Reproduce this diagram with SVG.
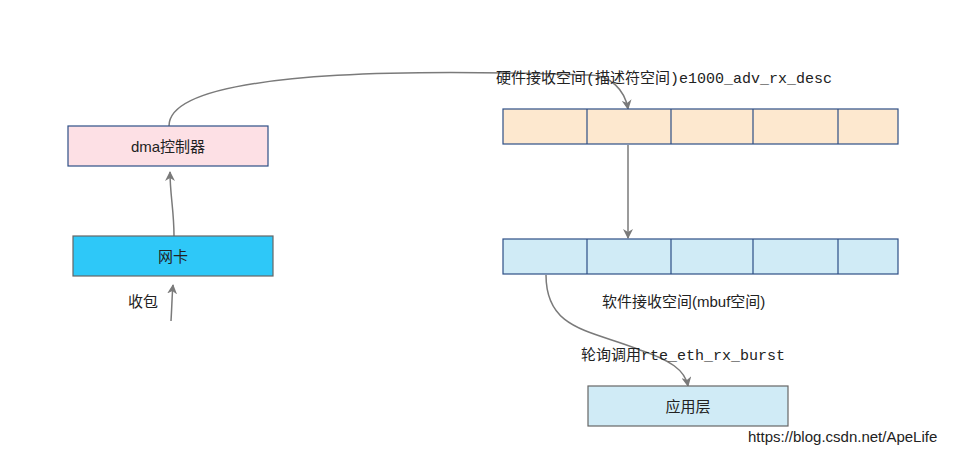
<svg xmlns="http://www.w3.org/2000/svg" width="956" height="454" viewBox="0 0 956 454">
<style>
text{font-family:"Liberation Sans","Noto Sans CJK SC",sans-serif;font-size:15px;fill:#222}
.m{font-family:"Liberation Mono","Noto Sans CJK SC",monospace}
.c{stroke:#7a7a7a;stroke-width:1.5;fill:none}
.b{stroke:#2e4f86;stroke-width:1.2}
</style>
<defs><marker id="a" markerWidth="10" markerHeight="10" refX="9" refY="5" orient="auto" markerUnits="userSpaceOnUse"><path d="M0,0L10,5L0,10L3,5z" fill="#7a7a7a"/></marker></defs>
<rect width="956" height="454" fill="#fff"/>
<g id="connectors">
<path class="c" d="M171,321C172,305 172,295 173,285" marker-end="url(#a)"/>
<path class="c" d="M174,236C174,210 170,195 170,172" marker-end="url(#a)"/>
<path class="c" d="M169,126C169,55 560,75 590,75C610,75 625,90 628,109" marker-end="url(#a)"/>
<path class="c" d="M628,145L628,238" marker-end="url(#a)"/>
<path class="c" d="M546,275C546,330 590,330 640,350C670,360 685,370 688,386" marker-end="url(#a)"/>
</g>
<g id="dma"><rect x="68" y="126" width="200" height="40" fill="#fde0e5" class="b"/><text x="168" y="152" text-anchor="middle">dma控制器</text></g>
<g id="nic"><rect x="73" y="236" width="200" height="40" fill="#2ec8f8" stroke="#666" stroke-width="1.2"/><text x="173" y="262" text-anchor="middle">网卡</text></g>
<text x="128" y="307" fill="#333">收包</text>
<g id="hw">
<rect x="503" y="109" width="395" height="35" fill="#fde8cf" class="b"/>
<path class="b" d="M587,109V144M671,109V144M753,109V144M838,109V144"/>
<text x="496" y="83" class="m" font-size="16">硬件接收空间(描述符空间)e1000_adv_rx_desc</text>
</g>
<g id="sw">
<rect x="503" y="239" width="395" height="35" fill="#d0ebf6" class="b"/>
<path class="b" d="M587,239V274M671,239V274M753,239V274M838,239V274"/>
<text x="602" y="307" font-size="17">软件接收空间(mbuf空间)</text>
</g>
<text x="581" y="360" class="m" font-size="14">轮询调用rte_eth_rx_burst</text>
<g id="app"><rect x="588" y="386" width="200" height="40" fill="#d0ebf6" stroke="#666" stroke-width="1.2"/><text x="688" y="412" text-anchor="middle">应用层</text></g>
<text x="748" y="442" font-size="15" fill="#ddd">https://blog.csdn.net/ApeLife</text>
</svg>
